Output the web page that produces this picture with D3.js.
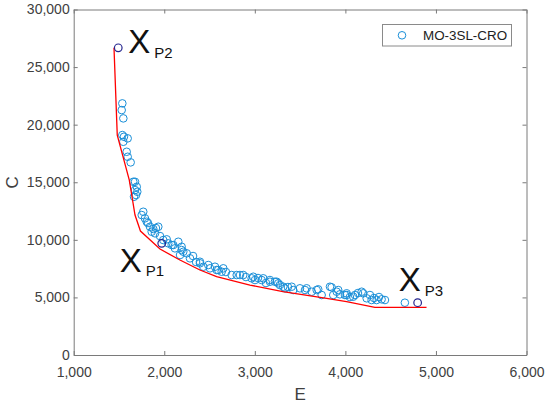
<!DOCTYPE html>
<html>
<head>
<meta charset="utf-8">
<script src="https://cdn.jsdelivr.net/npm/d3@7"></script>
<style>
html,body{margin:0;padding:0;background:#fff;}
svg{display:block;font-family:"Liberation Sans",Arial,sans-serif;}
</style>
</head>
<body>
<div id="chart"></div>
<script>
// ---- data ----
const xTicks = [1000, 2000, 3000, 4000, 5000, 6000];
const yTicks = [0, 5000, 10000, 15000, 20000, 25000, 30000];
const seriesName = "MO-3SL-CRO";
// solution points (E, C)
const solE = [1537,1530,1548,1537,1555,1596,1548,1585,1596,1629,1658,1677,1696,1677,1702,1688,1666,
  1768,1751,1787,1806,1820,1842,1934,1861,1898,1879,1908,1953,1989,2027,2044,2100,2155,2082,2118,2192,2192,
  2174,2248,2210,2284,2318,2351,2394,2394,2486,2431,2505,2560,2579,2596,2634,2652,2681,2744,2800,2836,2872,
  2902,2965,2983,3002,3035,3075,3093,3123,3167,3167,3222,3241,3259,3277,3314,3333,3366,3407,3424,3498,3554,
  3572,3628,3683,3700,3738,3830,3848,3866,3904,3921,3940,3995,4014,4014,4050,4087,4106,4139,4180,4197,4235,
  4271,4290,4316,4345,4371,4400,4437,4657];
const solC = [21848,21266,20546,19096,18948,18810,18514,17646,17212,16726,15042,15042,14608,14322,14174,13888,13740,
  12438,12152,11866,11570,11458,11136,11136,10702,10564,10937,11024,10329,9982,10043,9696,9548,9834,9548,9262,9400,9114,
  8680,8828,8966,8394,8593,8072,8098,7960,7812,7664,7526,7664,7378,7378,7230,7526,7204,6944,6944,6944,6944,
  6770,6658,6796,6510,6684,6510,6658,6250,6362,6510,6362,6362,6224,6076,5928,5790,5902,5928,5642,5790,5642,
  5790,5494,5642,5703,5208,5928,5876,5208,5494,5642,5269,5208,5356,5208,5034,5060,5208,5381,5494,5356,4922,
  5208,4774,4948,4774,5034,4835,4774,4540];
// extreme points
const extE = [1492, 1972, 4798];
const extC = [26674, 9696, 4540];
const extLabels = ["P2", "P1", "P3"];
// red frontier line
const frontE = [1445,1481,1614,1677,1737,1953,2173,2394,2578,2946,3310,3793,4013,4326,4896];
const frontC = [26675,19097,15190,12153,10764,9201,8247,7378,6797,6076,5495,4922,4627,4141,4141];

// ---- layout ----
const W = 550, H = 404;
const m = {left: 73.7, right: 526.5, top: 9.5, bottom: 355};
const svg = d3.select("#chart").append("svg").attr("width", W).attr("height", H);

const x = d3.scaleLinear().domain([1000, 6000]).range([m.left, m.right]);
const y = d3.scaleLinear().domain([0, 30000]).range([m.bottom, m.top]);
const fmt = d3.format(",");
const axisCol = "#7a7a7a", textCol = "#404040";

// axes
const gx = svg.append("g").attr("transform", `translate(0,${m.bottom})`)
  .call(d3.axisBottom(x).tickValues(xTicks).tickFormat(fmt).tickSizeInner(-4).tickSizeOuter(0).tickPadding(12));
const gxt = svg.append("g").attr("transform", `translate(0,${m.top})`)
  .call(d3.axisTop(x).tickValues(xTicks).tickFormat("").tickSizeInner(-4).tickSizeOuter(0));
const gy = svg.append("g").attr("transform", `translate(${m.left},0)`)
  .call(d3.axisLeft(y).tickValues(yTicks).tickFormat(fmt).tickSizeInner(-4).tickSizeOuter(0).tickPadding(4));
const gyr = svg.append("g").attr("transform", `translate(${m.right},0)`)
  .call(d3.axisRight(y).tickValues(yTicks).tickFormat("").tickSizeInner(-4).tickSizeOuter(0));
[gx, gxt, gy, gyr].forEach(g => {
  g.selectAll("path.domain").attr("stroke", axisCol).attr("stroke-width", 1);
  g.selectAll(".tick line").attr("stroke", axisCol);
  g.selectAll(".tick text").attr("fill", textCol).attr("font-size", 14)
    .attr("font-family", "Liberation Sans, Arial, sans-serif");
});

// axis labels
svg.append("text").attr("x", (m.left + m.right) / 2).attr("y", 400)
  .attr("text-anchor", "middle").attr("font-size", 17).attr("fill", textCol).text("E");
svg.append("text").attr("transform", `translate(18,${(m.top + m.bottom) / 2}) rotate(-90)`)
  .attr("text-anchor", "middle").attr("font-size", 17).attr("fill", textCol).text("C");

// solution points
const pts = solE.map((e, i) => ({e, c: solC[i]}));
svg.append("g").selectAll("circle").data(pts).join("circle")
  .attr("cx", d => x(d.e)).attr("cy", d => y(d.c)).attr("r", 3.8)
  .attr("fill", "none").attr("stroke", "#1a8fd8").attr("stroke-width", 1);

// frontier line
const front = frontE.map((e, i) => ({e, c: frontC[i]}));
svg.append("path").datum(front)
  .attr("d", d3.line().x(d => x(d.e)).y(d => y(d.c)))
  .attr("fill", "none").attr("stroke", "#ff0000").attr("stroke-width", 1.3);

// extreme points
const ext = extE.map((e, i) => ({e, c: extC[i], lab: extLabels[i]}));
svg.append("g").selectAll("circle").data(ext).join("circle")
  .attr("cx", d => x(d.e)).attr("cy", d => y(d.c)).attr("r", 3.8)
  .attr("fill", "none").attr("stroke", "#25258f").attr("stroke-width", 1.2);

// X_P labels (positioned relative to point)
const labOff = {P2: [10, 5.5], P1: [-42, 28.5], P3: [-19, -11.5]};
ext.forEach(d => {
  const [dx, dy] = labOff[d.lab];
  const t = svg.append("text").attr("x", x(d.e) + dx).attr("y", y(d.c) + dy)
    .attr("fill", "#111").attr("font-size", 33);
  t.append("tspan").text("X");
  t.append("tspan").attr("font-size", 15).attr("dx", 4).attr("dy", 4.5).text(d.lab);
});

// legend
const lg = svg.append("g");
lg.append("rect").attr("x", 382.5).attr("y", 24.5).attr("width", 129).attr("height", 21.5)
  .attr("fill", "#fff").attr("stroke", "#8a8a8a").attr("stroke-width", 1);
lg.append("circle").attr("cx", 402).attr("cy", 35.3).attr("r", 3.8)
  .attr("fill", "none").attr("stroke", "#1a8fd8").attr("stroke-width", 1);
lg.append("text").attr("x", 423).attr("y", 40).attr("font-size", 13.4).attr("fill", "#222").text(seriesName);
</script>
</body>
</html>
